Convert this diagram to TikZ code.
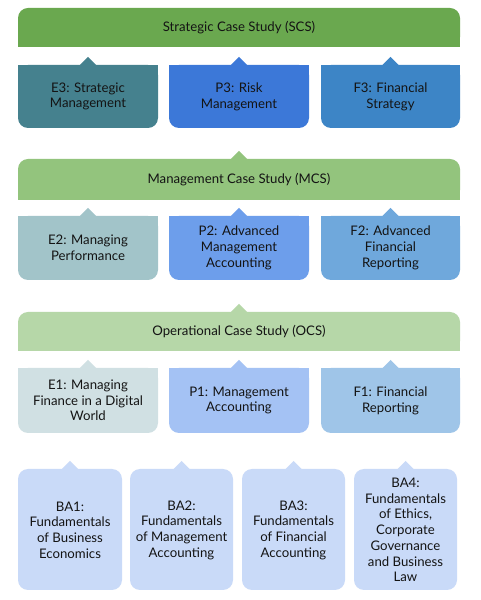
\documentclass[tikz,border=0pt]{standalone}
\usepackage{fontspec}
\setmainfont{Lato}
\usetikzlibrary{positioning}

\definecolor{scsgreen}{HTML}{6AA84F}
\definecolor{mcsgreen}{HTML}{93C47D}
\definecolor{ocsgreen}{HTML}{B6D7A8}
\definecolor{ethree}{HTML}{45818E}
\definecolor{pthree}{HTML}{3C78D8}
\definecolor{fthree}{HTML}{3D85C6}
\definecolor{etwo}{HTML}{A2C4C9}
\definecolor{ptwo}{HTML}{6D9EEB}
\definecolor{ftwo}{HTML}{6FA8DC}
\definecolor{eone}{HTML}{D0E0E3}
\definecolor{pone}{HTML}{A4C2F4}
\definecolor{fone}{HTML}{9FC5E8}
\definecolor{bablue}{HTML}{C9DAF8}
\definecolor{txt}{HTML}{141414}

\tikzset{
  subj/.style={align=center, text=txt, font=\fontsize{13.2}{15.7}\selectfont},
}

% small triangle on top of a box: colour, x, y
\newcommand{\tabtip}[3]{\fill[#1] ({#2-8},{#3}) -- ({#2},{#3+8}) -- ({#2+8},{#3}) -- cycle;}
% case study banner: colour, left, bottom, right, top
\newcommand{\banner}[5]{%
  \fill[#1, rounded corners=10] (#2,#3) rectangle (#4,#5);
  \fill[#1] (#2,#3) rectangle (#4,{#3+14});}
% exam box, square top and round bottom: colour, left, bottom, right, top
\newcommand{\exambox}[5]{%
  \fill[#1, rounded corners=10] (#2,#3) rectangle (#4,#5);
  \fill[#1] (#2,{#5-14}) rectangle (#4,#5);
  \tabtip{#1}{(#2+#4)/2}{#5}}
% certificate box, round all over: colour, left, bottom, right, top
\newcommand{\babox}[5]{%
  \fill[#1, rounded corners=10] (#2,#3) rectangle (#4,#5);
  \tabtip{#1}{(#2+#4)/2}{#5}}

\begin{document}
\begin{tikzpicture}[x=1pt, y=1pt]
\useasboundingbox[fill=white] (0,0) rectangle (480,600);

% strategic level
\banner{scsgreen}{18}{553}{460}{592}
\exambox{ethree}{18}{472}{158}{535}
\exambox{pthree}{169}{472}{309}{535}
\exambox{fthree}{321}{472}{460}{535}
\node[subj] (scs) at (239,572) {Strategic Case Study (SCS)};
\node[subj] (e3) at (88,503.5) {E3: Strategic\\Management};
\node[subj] (p3) at (239,503.5) {P3: Risk\\Management};
\node[subj] (f3) at (390.5,503.5) {F3: Financial\\Strategy};

% management level
\banner{mcsgreen}{18}{400}{460}{441}
\tabtip{mcsgreen}{239}{441}
\exambox{etwo}{18}{320}{158}{384}
\exambox{ptwo}{169}{320}{309}{384}
\exambox{ftwo}{321}{320}{460}{384}
\node[subj] (mcs) at (239,420) {Management Case Study (MCS)};
\node[subj] (e2) at (88,352) {E2: Managing\\Performance};
\node[subj] (p2) at (239,352) {P2: Advanced\\Management\\Accounting};
\node[subj] (f2) at (390.5,352) {F2: Advanced\\Financial\\Reporting};

% operational level
\banner{ocsgreen}{18}{249}{460}{288}
\tabtip{ocsgreen}{239}{288}
\exambox{eone}{18}{167}{158}{232}
\exambox{pone}{169}{167}{309}{232}
\exambox{fone}{321}{167}{460}{232}
\node[subj] (ocs) at (239,268.5) {Operational Case Study (OCS)};
\node[subj] (e1) at (88,199.5) {E1: Managing\\Finance in a Digital\\World};
\node[subj] (p1) at (239,199.5) {P1: Management\\Accounting};
\node[subj] (f1) at (390.5,199.5) {F1: Financial\\Reporting};

% certificate level
\babox{bablue}{18}{10}{122}{131}
\babox{bablue}{130}{10}{233}{131}
\babox{bablue}{242}{10}{345}{131}
\babox{bablue}{354}{10}{457}{131}
\node[subj] (ba1) at (70,70) {BA1:\\Fundamentals\\of Business\\Economics};
\node[subj] (ba2) at (181.5,70) {BA2:\\Fundamentals\\of Management\\Accounting};
\node[subj] (ba3) at (293.5,70) {BA3:\\Fundamentals\\of Financial\\Accounting};
\node[subj] (ba4) at (405.5,70) {BA4:\\Fundamentals\\of Ethics,\\Corporate\\Governance\\and Business\\Law};
\end{tikzpicture}
\end{document}
